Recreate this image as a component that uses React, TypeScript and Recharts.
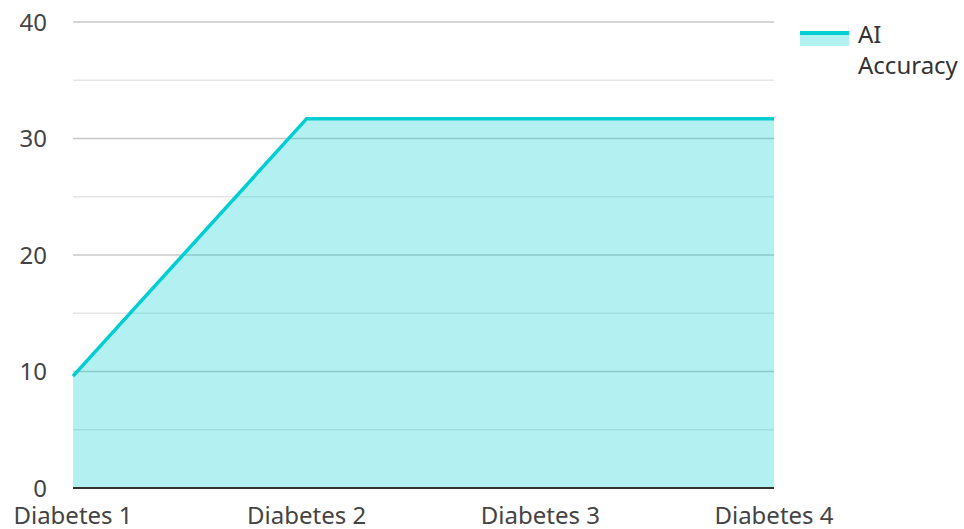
import { AreaChart, Area, XAxis, YAxis, CartesianGrid } from 'recharts';

const categories = ['Diabetes 1', 'Diabetes 2', 'Diabetes 3', 'Diabetes 4'];
const aiAccuracy = [9.6, 31.7, 31.7, 31.7];
const yTicks = [0, 5, 10, 15, 20, 25, 30, 35, 40];

const data = categories.map((name, i) => ({ name, value: aiAccuracy[i] }));

const FONT = '"Noto Sans", "Open Sans", sans-serif';
const TEAL = '#00CED1';

const GridLine = (props: any) => {
  const { x1, x2, y1, y2, index } = props;
  const major = index % 2 === 0;
  return <line x1={x1} x2={x2} y1={y1} y2={y2} stroke={major ? '#c8c8c8' : '#e6e6e6'} strokeWidth={1.6} />;
};

export default function App() {
  return (
    <div style={{ position: 'absolute', left: 0, top: 0, width: 964, height: 529, background: '#fff', fontFamily: FONT }}>
      <AreaChart width={964} height={529} data={data} margin={{ top: 22, right: 190, bottom: 0, left: 13 }}>
        <CartesianGrid vertical={false} horizontal={GridLine} />
        <XAxis
          dataKey="name"
          axisLine={{ stroke: '#333', strokeWidth: 2 }}
          tickLine={false}
          height={41}
          tickMargin={13}
          interval={0}
          tick={{ fontSize: 24, fill: '#444', fontFamily: FONT }}
        />
        <YAxis
          domain={[0, 40]}
          ticks={yTicks}
          width={60}
          axisLine={false}
          tickLine={false}
          tickMargin={20}
          tickFormatter={(v: number) => (v % 10 === 0 ? String(v) : '')}
          tick={{ fontSize: 24, fill: '#444', fontFamily: FONT }}
        />
        <Area
          type="linear"
          dataKey="value"
          stroke={TEAL}
          strokeWidth={3.5}
          fill={TEAL}
          fillOpacity={0.3}
          dot={false}
          activeDot={false}
          isAnimationActive={false}
        />
      </AreaChart>
      <div style={{ position: 'absolute', left: 800, top: 31, width: 49, height: 15 }}>
        <div style={{ height: 4, background: TEAL }} />
        <div style={{ height: 11, background: TEAL, opacity: 0.3 }} />
      </div>
      <div style={{ position: 'absolute', left: 858, top: 18, fontSize: 24, lineHeight: '31px', color: '#333' }}>
        AI
        <br />
        Accuracy
      </div>
    </div>
  );
}
